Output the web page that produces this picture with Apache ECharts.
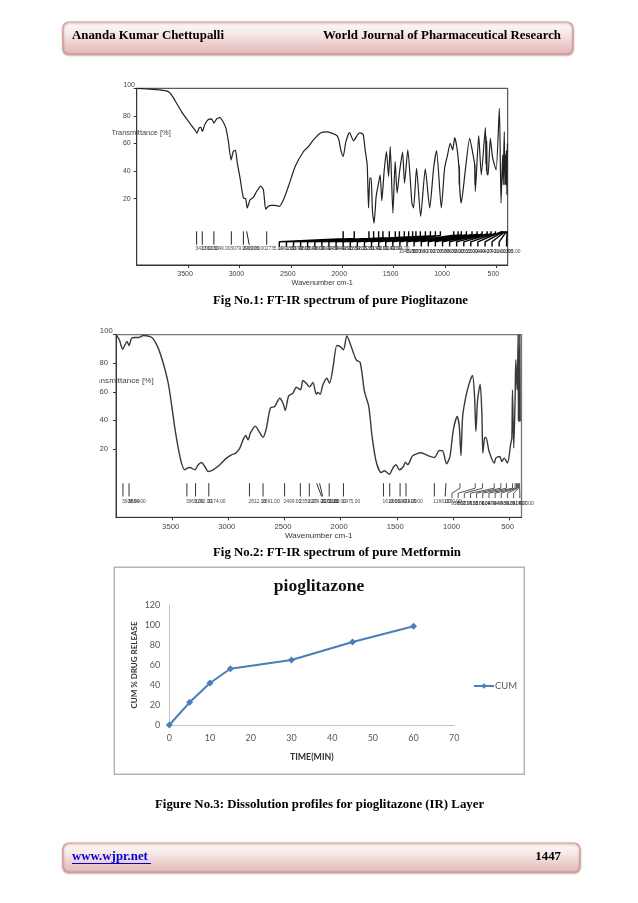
<!DOCTYPE html>
<html><head><meta charset="utf-8">
<style>html,body{margin:0;padding:0;background:#fff}#c{width:638px;height:903px;filter:blur(0.35px)}</style>
<script src="https://cdn.jsdelivr.net/npm/echarts@6/dist/echarts.min.js"></script>
</head><body><div id="c"></div>
<script>
// ---- Fig 1: pioglitazone FT-IR
var pioWave=[3998,3904,3775,3693,3661,3612,3564,3514,3466,3434,3414,3394,3375,3362,3336,3303,3271,3248,3223,3190,3157,3132,3108,3082,3060,3040,3021,2994,2962,2940,2924,2897,2865,2833,2793,2767,2745,2719,2695,2654,2612,2572,2524,2458,2377,2329,2280,2215,2150,2102,2052,2033,2014,1991,1964,1929,1890,1848,1829,1797,1777,1757,1744,1731,1719,1706,1690,1670,1647,1631,1615,1592,1570,1549,1533,1507,1485,1466,1442,1413,1394,1362,1322,1306,1277,1237,1192,1149,1111,1082,1036,1004,975,949,925,906,883,864,862,860,857,842,802,760,727,712,709,708,705,672,647,607,602,600,597,594,590,581,559,536,503,471,455,439,433,429,423,418,413,408,403,398,393];
var pioTrans=[100,99.5,98.8,97.6,95.2,89.2,83.1,77.8,73,69.9,67.5,71.1,71.8,68.7,74,77.4,77.8,74.7,77.8,78.8,75.4,71.1,61.5,48.2,54.2,55.2,45.8,34.9,20.5,20,13.3,19.3,21,25.3,29.2,26.5,12.5,14.5,15.2,15.2,14.5,19.3,28.9,43.4,54.2,57.8,62.7,67.5,68.4,67.5,65.8,62.7,55.4,50.6,61.5,68,61.9,66.7,67.7,66.7,55.4,44.6,13.3,34.9,34.9,10.9,2.4,21.7,31.3,37.3,18.6,40.2,54.2,36.1,57.8,9.6,47,24.1,39.7,53.7,31.3,55.4,16.9,13.3,42.1,7.2,41.7,13.3,42.1,54.7,13.3,42.1,51.8,60.2,55.4,64.3,56.6,42.1,30,44,28,16.9,40.9,63.8,51.8,45,30,45,25.3,65.7,37.3,71.5,45,65,40,62,38,37.3,63.8,49.4,41,85.5,16.9,51.8,30,50,68.6,30,52,30,55,23,60];
var pioSoloTop=[3417,3362,3249,3079,2962,2930,2735];
var pioSoloBottom=[3417,3362,3249,3079,2962,2905,2735];
var pioPeaks=[1991,1883,1740,1695,1646,1604,1542,1484,1444,1396,1354,1315,1283,1240,1191,1142,1094,1045,915,873,841,792,737,688,639,590,552,509,444,427,411,401,395];
var pioComb=[2612,2543,2474,2405,2337,2267,2198,2130,2060,1991,1922,1853,1784,1715,1645,1577,1508,1439,1370,1301,1231,1162,1094,1024,955,887,817,749,680,610,542,473,401];

// ---- Fig 2: metformin FT-IR
var metWave=[3998,3970,3941,3920,3902,3884,3861,3831,3801,3757,3698,3668,3624,3579,3535,3505,3476,3446,3417,3387,3366,3343,3298,3268,3239,3209,3180,3135,3076,3017,2972,2934,2898,2869,2845,2824,2804,2759,2727,2691,2661,2626,2587,2543,2513,2493,2463,2425,2395,2357,2336,2306,2277,2247,2217,2203,2182,2158,2123,2099,2069,2034,2004,1975,1945,1906,1862,1826,1788,1750,1720,1684,1640,1610,1566,1536,1507,1477,1441,1424,1403,1359,1285,1225,1166,1122,1092,1057,1027,997,962,944,929,914,885,855,826,808,796,781,758,743,734,719,707,678,633,618,583,565,544,515,485,476,470,459,447,441,429,420,417,411,408,405,402];
var metTrans=[99.9,96.4,89.8,92.9,95.2,92.4,97.6,98,98,99.4,98.7,97.1,90.6,80,66,50.8,34.5,20.5,10,5.3,6.5,6.9,5.3,8.8,10.4,7.6,4.1,5.3,8.8,13.5,15.8,17,20.5,26.3,29.3,26.3,31,35.9,32.2,28,34.5,48.5,49.7,55.5,52,46.9,57.1,59,63.2,61.4,67.9,66,63.4,66.5,58.3,59.5,58.3,64.9,69.5,66,76.5,92.4,91.7,89.4,99.2,91.7,82.4,80.5,60.2,49.7,28.6,11.1,3.4,4.6,2.2,6.4,8.8,5.3,7.6,10.7,8.8,15.1,17.2,15.3,13.9,18.8,18.6,9.5,14.6,33.3,42.7,35.7,15.1,42.7,56.7,66,71.4,56.7,32.2,54.3,65.3,45,17,27.5,27.9,18.1,10,13.5,14.6,11.1,13.5,10,24,27.5,61.3,20.5,54.3,82.4,61.3,99.9,40.3,39.2,77.7,99.9,39.2];
var metSoloTop=[3938,3884,3369,3292,3174,2812,2691,2499,2359,2279,2214,2188,2102,1975,1619,1563,1471,1418,1166,1062];
var metSoloBottom=[3938,3884,3369,3292,3174,2812,2691,2499,2359,2279,2170,2160,2102,1975,1619,1563,1471,1418,1166,1070];
var metPeaks=[938,802,737,633,574,524,470,447,435,425,417,407];
var metComb=[1009,954,899,844,790,735,680,625,570,515,460,405];

// ---- Fig 3: dissolution profile
var timeMin=[0,5,10,15,30,45,60];
var cumRelease=[0,22.7,42,56.3,65,83,98.7];

var waveTicks=[3500,3000,2500,2000,1500,1000,500];
var transTicks=[20,40,60,80,100];
var transLabels=[20,40,60,80];

var serif='"Liberation Serif"', sans='"Liberation Sans"';

function pairs(a,b){return a.map(function(v,i){return [v,b[i]];});}
function soloSeg(top,bottom,y0,y1){
  var out=[];top.forEach(function(w,i){out.push([w,y0],[bottom[i],y1],[NaN,NaN]);});return out;
}
// peak stem, leader line, comb tooth; stem foot climbs from yA to yB along the list
function combSeg(peaks,comb,y0,yA,yB,y2,y3){
  var out=[];var n=peaks.length-1;
  peaks.forEach(function(w,i){var f=yA+(yB-yA)*i/n;out.push([w,y0],[w,f],[comb[i],y2],[comb[i],y3],[NaN,NaN]);});return out;
}
function labelSeries(g,data,size,color){
  return {type:'scatter',xAxisIndex:g,yAxisIndex:g,symbolSize:0,silent:true,clip:false,data:data,z:3,
    label:{show:true,position:'right',distance:-1,fontSize:size,fontFamily:sans,color:color,
      formatter:function(p){return p.value[2];}}};
}
function lineSeries(g,data,color,w,smooth){
  return {type:'line',xAxisIndex:g,yAxisIndex:g,data:data,showSymbol:false,silent:true,connectNulls:false,smooth:smooth||false,
    lineStyle:{color:color,width:w},z:2,animation:false};
}
function plain(v){return String(v);}
function specX(g,maxW,minW,size,shift,gap,margin){
  return {gridIndex:g,type:'value',inverse:true,min:minW,max:maxW,splitLine:{show:false},
    name:'Wavenumber cm-1',nameLocation:'middle',nameGap:gap,nameTextStyle:{fontFamily:sans,fontSize:size+0.3,color:'#333'},
    axisLine:{show:true,onZero:false,lineStyle:{color:'#333',width:1}},
    axisTick:{show:true,length:3,inside:false,customValues:waveTicks,lineStyle:{color:'#333'}},
    axisLabel:{customValues:waveTicks,formatter:plain,fontFamily:sans,fontSize:size,color:'#444',margin:margin,padding:[0,shift,0,0]}};
}
function specY(g,minT,size,margin){
  return {gridIndex:g,type:'value',min:minT,max:100,splitLine:{show:false},
    axisLine:{show:true,onZero:false,lineStyle:{color:'#333',width:1}},
    axisTick:{show:true,length:3,inside:false,customValues:transTicks,lineStyle:{color:'#333'}},
    axisLabel:{customValues:transLabels,formatter:plain,fontFamily:sans,fontSize:size,color:'#444',margin:margin}};
}
function txt(t,x,y,size,color,align,family,weight){
  return {type:'text',z:50,silent:true,style:{text:t,x:x,y:y,fontSize:size,fontFamily:family||serif,fontWeight:weight||'bold',fill:color||'#000',align:align||'left',verticalAlign:'middle'}};
}
function band(x,y,w,h){
  return {type:'rect',z:1,silent:true,shape:{x:x,y:y,width:w,height:h,r:6},
    style:{fill:{type:'linear',x:0,y:0,x2:0,y2:1,colorStops:[{offset:0,color:'#fefbfb'},{offset:0.35,color:'#f7e9e8'},{offset:1,color:'#e3b6b5'}]},
      stroke:'#d69a99',lineWidth:1.2,shadowBlur:2,shadowOffsetY:1,shadowColor:'rgba(120,60,60,0.5)'}};
}

var pioLabelData=[];
pioSoloBottom.forEach(function(w){pioLabelData.push([w,-16.4,w.toFixed(2)]);});
pioComb.forEach(function(c,i){if(c>1465)pioLabelData.push([c,-16.4,pioPeaks[i].toFixed(2)]);});
var pioLabelRow2=[];
pioComb.forEach(function(c,i){if(c<=1465)pioLabelRow2.push([c,-18.6,pioPeaks[i].toFixed(2)]);});
var metLabelData=[];
metSoloBottom.forEach(function(w){metLabelData.push([w,-16.9,w.toFixed(2)]);});
var metLabelRow2=[];
metComb.forEach(function(c,i){metLabelRow2.push([c,-18.7,metPeaks[i].toFixed(2)]);});

var chart=echarts.init(document.getElementById('c'));
chart.setOption({
  animation:false,
  backgroundColor:'#fff',
  title:{text:'pioglitazone',left:'center',top:572,textStyle:{fontFamily:serif,fontWeight:'bold',fontSize:17.5,color:'#111'}},
  legend:{data:['CUM'],left:473,top:681,padding:0,itemWidth:20,itemHeight:7,itemGap:2,textStyle:{fontFamily:'Lato',fontSize:9.5,color:'#595959',padding:[0,0,0,-4]}},
  grid:[
    {left:136.7,top:88.3,width:371,height:176.7,show:true,borderColor:'#333',borderWidth:1,backgroundColor:'transparent'},
    {left:116,top:334.7,width:405.5,height:182.6,show:true,borderColor:'#777',borderWidth:1.3,backgroundColor:'transparent'},
    {left:169.3,top:605,width:285,height:120}
  ],
  xAxis:[
    specX(0,4000,390,7,6,14,6),
    specX(1,4000,390,7.7,3,13,6),
    {gridIndex:2,type:'value',min:0,max:70,interval:10,splitLine:{show:false},
     name:'TIME(MIN)',nameLocation:'middle',nameGap:28,nameTextStyle:{fontFamily:'Lato',fontWeight:'bold',fontSize:8.8,color:'#333'},
     axisLine:{show:true,onZero:false,lineStyle:{color:'#c4c4c4'}},axisTick:{show:false},
     axisLabel:{fontFamily:'Lato',fontSize:9,color:'#595959',margin:9}}
  ],
  yAxis:[
    specY(0,-28,7,6),
    specY(1,-28,7.7,8),
    {gridIndex:2,type:'value',min:0,max:120,interval:20,splitLine:{show:false},
     name:'CUM % DRUG RELEASE',nameLocation:'middle',nameGap:31,nameRotate:90,nameTextStyle:{fontFamily:'Lato',fontWeight:'bold',fontSize:8,color:'#333'},
     axisLine:{show:true,lineStyle:{color:'#c4c4c4'}},axisTick:{show:false},
     axisLabel:{fontFamily:'Lato',fontSize:9,color:'#595959',margin:9}}
  ],
  series:[
    lineSeries(0,pairs(pioWave,pioTrans),'#222',1.2,0.2),
    lineSeries(0,soloSeg(pioSoloTop,pioSoloBottom,-3.6,-13.3),'#222',1),
    lineSeries(0,combSeg(pioPeaks,pioComb,-3.6,-9,-4.4,-11.2,-14.6),'#000',1.4),
    labelSeries(0,pioLabelData,4.9,'#111'),
    labelSeries(0,pioLabelRow2,4.9,'#111'),
    lineSeries(1,pairs(metWave,metTrans),'#3a3a3a',1.4,0.25),
    lineSeries(1,soloSeg(metSoloTop,metSoloBottom,-4.1,-13.4),'#333',1),
    lineSeries(1,combSeg(metPeaks,metComb,-4.1,-7.6,-7.6,-11.1,-14.6),'#555',1),
    labelSeries(1,metLabelData,4.9,'#111'),
    labelSeries(1,metLabelRow2,4.9,'#111'),
    {type:'line',name:'CUM',xAxisIndex:2,yAxisIndex:2,data:pairs(timeMin,cumRelease),symbol:'diamond',symbolSize:7,
     lineStyle:{color:'#4a7ebb',width:2},itemStyle:{color:'#4a7ebb'},animation:false}
  ],
  graphic:{elements:[
    band(63,22,510,32),
    band(63,843,517,29),
    {type:'rect',z:0,silent:true,shape:{x:114.3,y:567.3,width:410,height:207},style:{fill:'#fff',stroke:'#b4b4b4',lineWidth:1.5}},
    txt('Ananda Kumar Chettupalli',72,36,12.85),
    txt('World Journal of Pharmaceutical Research',561,36,12.85,'#000','right'),
    txt('www.wjpr.net',72,857,12.85,'#0000e0'),
    {type:'line',z:50,silent:true,shape:{x1:72,y1:863.5,x2:151,y2:863.5},style:{stroke:'#0000e0',lineWidth:1}},
    txt('1447',561,857,12.85,'#000','right'),
    txt('Fig No.1: FT-IR spectrum of pure Pioglitazone',213,300.7,12.85),
    txt('Fig No.2: FT-IR spectrum of pure Metformin',213,553,12.85),
    txt('Figure No.3: Dissolution profiles for pioglitazone (IR) Layer',155,805,12.85),
    txt('Transmittance [%]',170.7,133.3,7.4,'#444','right',sans,'normal'),
    txt('Transmittance [%]',153.7,381,8.1,'#444','right',sans,'normal'),
    txt('100',135,85,7,'#444','right',sans,'normal'),
    txt('100',112.7,330.7,7.7,'#444','right',sans,'normal'),
    {type:'rect',z:60,silent:true,shape:{x:70,y:325,width:29.5,height:140},style:{fill:'#fff'}}
  ]}
});
</script></body></html>
